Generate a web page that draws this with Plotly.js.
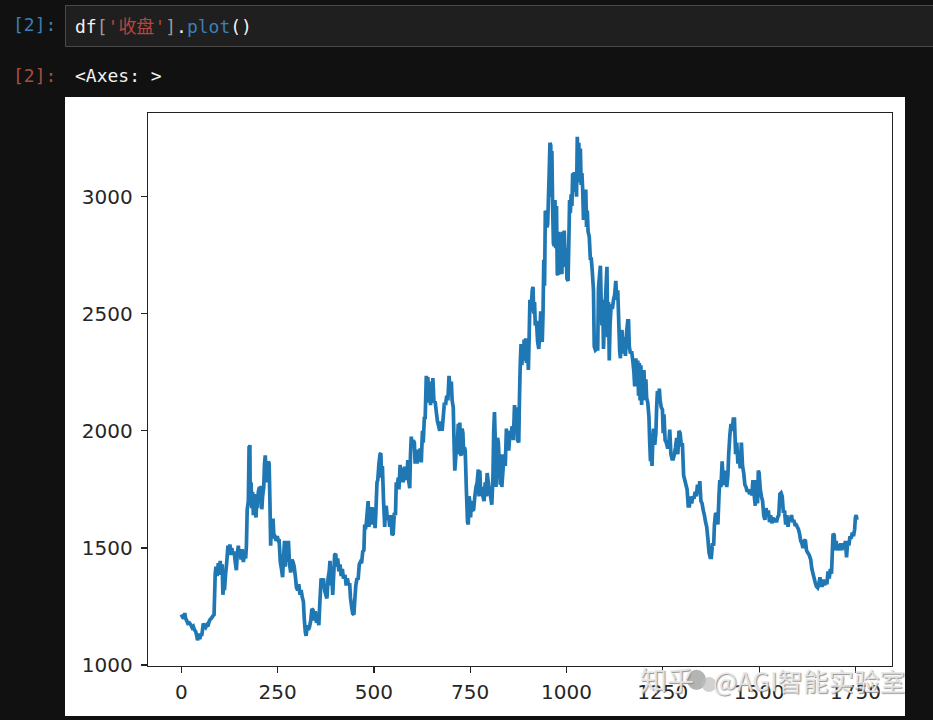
<!DOCTYPE html>
<html>
<head>
<meta charset="utf-8">
<script src="https://cdn.plot.ly/plotly-3.0.1.min.js"></script>
<style>
html, body { margin: 0; padding: 0; background: #111111; width: 933px; height: 720px; overflow: hidden; }
.code { position: absolute; font-family: "DejaVu Sans Mono", monospace; font-size: 18px; white-space: pre; line-height: 22px; }
#cell { position: absolute; left: 65px; top: 5px; width: 880px; height: 40px; background: #1f1f1f; border: 1px solid #4a4a4a; box-sizing: content-box; }
#plot { position: absolute; left: 65px; top: 97px; width: 840px; height: 619px; }
</style>
</head>
<body>
<div class="code" style="left:13px;top:14px;color:#3b7fb5">[2]:</div>
<div id="cell"></div>
<div class="code" style="left:75px;top:14px;color:#f2f2f2">df<span style="color:#9a9a9a">[</span><span style="color:#b5453f">'<span style="font-family:'Noto Sans CJK SC'">收盘</span>'</span><span style="color:#9a9a9a">]</span>.<span style="color:#3b7fb5">plot</span>()</div>
<div class="code" style="left:13px;top:65px;color:#a0523f">[2]:</div>
<div class="code" style="left:75px;top:65px;color:#f2f2f2">&lt;Axes: &gt;</div>
<div id="plot"></div>
<script>
// row number, close, top and bottom of the noisy band
closePairs = [[0,1216],[3,1205],[6,1200],[9,1222],[11,1200],[14,1190],[17,1178],[21,1180],[25,1170],[28,1160],[31,1165],[34,1150],[37,1145],[40,1125],[42,1106],[44,1115],[46,1135],[48,1110],[50,1130],[53,1125],[55,1150],[57,1178],[60,1165],[63,1160],[66,1170],[69,1165],[72,1185],[75,1195],[78,1200],[82,1210],[85,1215],
[88,1390],[90,1420],[93,1380],[96,1435],[98,1390],[101,1445],[103,1385],[106,1430],[108,1300],[110,1350],[112,1320],[115,1390],[118,1440],[121,1510],[124,1490],[126,1515],[129,1470],[131,1500],[134,1470],[137,1485],[140,1440],[143,1405],[145,1470],[148,1510],[150,1470],[153,1495],[155,1450],[158,1495],[161,1440],[164,1470],[167,1455],[169,1510],
[171,1662],[174,1700],[176,1935],[177,1800],[178,1940],[179,1680],[181,1780],[183,1670],[185,1740],[187,1640],[190,1730],[192,1650],[194,1630],[196,1720],[198,1670],[200,1740],[203,1760],[205,1700],[207,1765],[209,1665],[211,1720],[214,1760],[216,1860],[218,1895],[220,1820],[222,1870],[224,1780],[226,1870],[228,1860],[230,1700],[232,1510],[234,1620],[236,1540],[238,1625],[240,1560],[243,1550],[246,1530],[249,1550],[252,1530],[254,1530],[257,1440],[260,1410],[263,1375],[265,1450],[268,1530],[270,1420],[272,1530],[275,1440],[278,1530],[281,1430],[284,1395],[287,1450],[290,1440],[293,1420],[296,1380],[299,1330],[302,1320],[305,1345],[308,1300],[311,1320],[314,1290],[317,1270],[319,1200],[322,1140],[324,1125],[327,1170],[330,1150],[333,1165],[336,1190],[339,1240],[342,1235],[345,1190],[348,1230],[351,1180],[354,1200],[357,1170],[360,1280],[363,1370],[366,1345],[369,1370],[372,1320],[375,1300],[378,1285],[381,1370],[384,1400],[386,1445],[389,1340],[391,1380],[393,1300],[396,1400],[398,1470],[401,1475],[403,1420],[406,1455],[409,1400],[412,1430],[415,1380],[418,1410],[421,1370],[425,1385],[428,1340],[431,1370],[434,1345],[437,1350],[439,1290],[442,1250],[445,1220],[448,1215],[450,1270],[453,1340],[456,1370],[459,1365],[462,1430],[465,1440],[468,1435],[471,1485],[474,1490],[476,1600],[478,1580],[480,1600],[483,1660],[485,1700],[487,1590],[490,1660],[492,1600],[495,1675],[497,1600],[500,1670],[503,1585],[505,1650],[508,1780],[510,1790],[513,1860],[516,1900],[518,1905],[520,1800],[522,1850],[525,1700],[528,1590],[530,1670],[532,1680],[535,1620],[538,1640],[541,1590],[544,1640],[547,1555],
[550,1560],[553,1650],[556,1640],[558,1780],[561,1760],[563,1800],[565,1750],[568,1855],[571,1780],[574,1840],[576,1780],[579,1840],[582,1840],[585,1790],[588,1875],[590,1790],[593,1755],[595,1900],[597,1975],[600,1930],[602,1960],[605,1950],[607,1860],[610,1900],[612,1860],[615,1920],[618,1870],[620,1925],[623,1865],[626,2000],[628,1950],[631,2060],[633,2050],[636,2235],[638,2130],[640,2230],[642,2120],[645,2200],[647,2110],[649,2210],[651,2120],[653,2225],[656,2120],[659,2125],[662,2080],[665,2040],[668,2020],[671,2000],[674,2040],[677,2000],[680,2060],[683,2120],[686,2110],[689,2150],[692,2130],[695,2235],[698,2170],[701,2210],[703,2130],[706,2100],[708,1950],[710,1830],[713,1900],[716,1920],[719,2030],[721,1900],[723,2035],[725,1900],[727,1895],[729,2010],[731,1990],[733,1900],[735,1930],[737,1915],[740,1750],[743,1610],[745,1600],[747,1720],[749,1700],[751,1630],[753,1700],[756,1660],[759,1665],[762,1720],[765,1760],[768,1780],[771,1835],[773,1720],[775,1830],[777,1740],[780,1760],[783,1720],[786,1700],[789,1780],[791,1720],[794,1820],[797,1780],[800,1730],[803,1720],[806,1685],[809,1800],[811,2000],[813,2080],[815,1960],[817,1760],[819,1890],[821,1970],[823,1950],[826,1850],[828,1770],[830,1900],[832,1760],[835,1830],[838,1900],[841,1850],[844,2010],[846,1950],[848,2000],[850,1915],[853,1990],[856,1985],[859,2020],[862,1960],[865,2110],[867,2000],[870,2100],[873,1960],[876,1950],[878,2150],[880,2290],[882,2370],[884,2280],[886,2340],[888,2300],[890,2390],[892,2320],[894,2395],[896,2290],[899,2350],[901,2260],[903,2400],[905,2560],[908,2510],[911,2600],[913,2615],[915,2500],[917,2550],[919,2450],[922,2470],[925,2380],[928,2350],[931,2430],[933,2510],[935,2400],[937,2380],[939,2500],[941,2730],[943,2620],[945,2940],[947,2930],[949,2870],[951,2880],[953,2990],[955,3100],[957,3230],[959,3220],[961,3000],[962,3195],[964,2950],[966,2800],[968,2790],[970,2985],[972,2780],[974,2960],[976,2670],[978,2665],[980,2850],[982,2670],[984,2820],[986,2680],[988,2670],[990,2850],[992,2700],[994,2855],[996,2770],[999,2780],[1001,2650],[1004,2640],[1006,2800],[1008,2985],[1010,2930],[1012,3010],[1014,2960],[1016,3100],[1018,3020],[1020,3105],[1022,3040],[1024,3060],[1026,3000],[1028,3255],[1030,3100],[1032,3230],[1034,3060],[1036,3205],[1038,3050],[1040,3100],[1042,3030],[1044,2900],[1046,3030],[1048,2900],[1050,3030],[1052,2870],[1054,2940],[1056,2850],[1059,2830],[1062,2730],[1064,2740],[1067,2680],[1070,2600],[1072,2360],[1075,2345],[1078,2350],[1081,2350],[1083,2610],[1085,2650],[1088,2705],[1090,2550],[1092,2450],[1094,2560],[1096,2350],[1099,2500],[1102,2590],[1105,2700],[1107,2400],[1109,2550],[1111,2300],[1113,2450],[1116,2540],[1119,2520],[1122,2560],[1125,2580],[1128,2640],[1130,2560],[1133,2600],[1135,2500],[1138,2340],[1140,2310],[1142,2420],[1144,2430],[1147,2330],[1150,2400],[1153,2320],[1156,2420],[1159,2470],[1161,2470],[1163,2360],[1166,2330],[1169,2340],[1172,2300],[1175,2250],[1177,2190],[1180,2310],[1183,2200],[1185,2300],[1187,2150],[1189,2290],[1191,2130],[1193,2280],[1195,2110],[1197,2260],[1199,2130],[1201,2260],[1203,2160],[1206,2220],[1208,2140],[1211,2120],[1214,2060],[1216,1950],[1218,1870],[1220,1890],[1222,1850],[1224,1960],[1226,2010],[1229,1940],[1232,1990],[1234,2100],[1236,2170],[1238,2120],[1241,2180],[1243,2130],[1246,2100],[1249,2090],[1251,1990],[1253,2070],[1256,1960],[1259,1950],[1262,1930],[1265,1930],[1268,2005],[1271,1900],[1274,1880],[1277,1880],[1280,1900],[1283,1930],[1286,1970],[1289,1900],[1292,2000],[1295,1990],[1298,1940],[1301,1940],[1304,1810],[1307,1790],[1310,1770],[1313,1750],[1316,1680],[1319,1680],[1322,1720],[1325,1690],[1328,1720],[1331,1710],[1334,1740],[1337,1720],[1340,1770],[1343,1730],[1346,1785],[1349,1700],[1352,1690],[1355,1660],[1358,1640],[1361,1610],[1364,1590],[1367,1540],[1370,1480],[1373,1460],[1376,1460],[1379,1520],[1382,1510],[1384,1600],[1387,1650],[1390,1640],[1393,1600],[1396,1730],[1398,1790],[1401,1760],[1404,1870],[1407,1780],[1410,1770],[1413,1830],[1416,1760],[1419,1810],[1421,1900],[1424,1980],[1427,2030],[1430,2000],[1433,2050],[1436,2050],[1439,1900],[1442,1950],[1445,1860],[1448,1900],[1451,1840],[1454,1950],[1457,1850],[1460,1820],[1463,1770],[1466,1760],[1469,1740],[1472,1750],[1475,1730],[1478,1740],[1481,1725],[1484,1790],[1487,1730],[1490,1680],[1493,1790],[1496,1690],[1498,1830],[1500,1820],[1503,1750],[1506,1720],[1509,1700],[1512,1640],[1515,1620],[1518,1670],[1521,1640],[1524,1660],[1527,1610],[1530,1640],[1533,1605],[1536,1630],[1539,1610],[1542,1625],[1545,1610],[1548,1630],[1551,1640],[1554,1730],[1557,1735],[1560,1720],[1563,1650],[1566,1660],[1569,1600],[1572,1640],[1575,1590],[1578,1630],[1581,1620],[1584,1640],[1587,1610],[1590,1620],[1593,1600],[1596,1600],[1599,1590],[1602,1580],[1605,1560],[1608,1530],[1611,1520],[1614,1500],[1617,1530],[1620,1535],[1623,1490],[1626,1480],[1630,1470],[1634,1450],[1637,1410],[1640,1390],[1643,1370],[1646,1350],[1649,1335],[1652,1330],[1655,1345],[1658,1375],[1661,1340],[1664,1340],[1667,1365],[1670,1340],[1673,1360],[1676,1345],[1679,1400],[1682,1370],[1685,1410],[1688,1390],[1690,1480],[1692,1560],[1695,1555],[1697,1490],[1700,1530],[1703,1490],[1706,1515],[1709,1490],[1712,1520],[1715,1490],[1718,1520],[1721,1500],[1724,1530],[1727,1460],[1730,1530],[1733,1510],[1736,1550],[1739,1540],[1742,1565],[1745,1550],[1748,1580],[1750,1630],[1752,1640],[1754,1620]];
closeX = closePairs.map(function (p) { return p[0]; });
closeY = closePairs.map(function (p) { return p[1]; });
xTicks = [0,250,500,750,1000,1250,1500,1750];
yTicks = [1000,1500,2000,2500,3000];

// watermark sits over the x tick labels, same as the screenshot
markFont = {family: 'Noto Sans CJK SC', color: 'rgba(232,232,232,0.92)', shadow: '1px 1px 1px #8a8a8a'};

Plotly.newPlot('plot', [{
  x: closeX, y: closeY, type: 'scatter', mode: 'lines',
  line: {color: '#1f77b4', width: 3.7, simplify: false}
}], {
  width: 840, height: 619,
  margin: {l: 83, r: 13, t: 16, b: 50, pad: 0},
  paper_bgcolor: '#ffffff', plot_bgcolor: '#ffffff',
  showlegend: false,
  font: {family: 'DejaVu Sans', size: 20, color: '#262626'},
  xaxis: {range: [-86.5, 1845], tickvals: xTicks, ticks: 'outside', ticklen: 6, tickwidth: 1.2, tickcolor: '#222', ticklabelstandoff: 2,
    showgrid: false, zeroline: false, showline: true, mirror: true, linecolor: '#222', linewidth: 1.3},
  yaxis: {range: [996, 3357], tickvals: yTicks, ticks: 'outside', ticklen: 6, tickwidth: 1.2, tickcolor: '#222', ticklabelstandoff: 4,
    showgrid: false, zeroline: false, showline: true, mirror: true, linecolor: '#222', linewidth: 1.3},
  shapes: [
    {type: 'circle', xref: 'paper', yref: 'paper', x0: 0.7245, x1: 0.7500, y0: -0.0435, y1: -0.0070, fillcolor: '#b4b4b4', line: {width: 0}},
    {type: 'circle', xref: 'paper', yref: 'paper', x0: 0.7440, x1: 0.7640, y0: -0.0470, y1: -0.0200, fillcolor: 'rgba(190,190,190,0.7)', line: {width: 0}}
  ],
  annotations: [
    {xref: 'paper', yref: 'paper', x: 0.6586, y: -0.0253, xanchor: 'left', yanchor: 'middle', showarrow: false, text: '知乎', font: Object.assign({size: 27}, markFont)},
    {xref: 'paper', yref: 'paper', x: 1.0202, y: -0.0253, xanchor: 'right', yanchor: 'middle', showarrow: false, text: '@AGI智能实验室', font: Object.assign({size: 25.5}, markFont)}
  ]
}, {displayModeBar: false, staticPlot: true});
</script>
</body>
</html>
